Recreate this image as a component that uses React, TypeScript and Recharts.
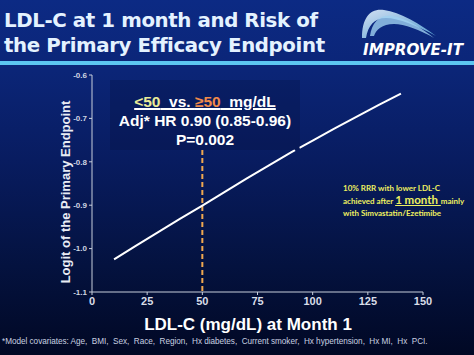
import React from "react";
import { LineChart, Line, XAxis, YAxis, ReferenceLine } from "recharts";

const ldlValues = [10, 20, 30, 40, 50, 60, 70, 80, 90, 92, 93, 94, 100, 110, 120, 130, 140];
const logitValues: (number | null)[] = [
  -1.025, -0.993, -0.962, -0.931, -0.901, -0.870, -0.839, -0.809, -0.779, -0.773, null, -0.768,
  -0.751, -0.723, -0.696, -0.669, -0.643,
];
const xTicks = [0, 25, 50, 75, 100, 125, 150];
const yTicks = [-1.1, -1.0, -0.9, -0.8, -0.7, -0.6];
const cutoff = 50;
const cutoffTop = -0.773;

const data = ldlValues.map((x, i) => ({ x, y: logitValues[i] }));

const W = 474;
const H = 355;

export default function App() {
  return (
    <div
      style={{
        position: "absolute",
        left: 0,
        top: 0,
        width: W,
        height: H,
        overflow: "hidden",
        background: "linear-gradient(180deg, #0c2a84 0%, #0b2577 20%, #081c60 45%, #04123f 75%, #010824 100%)",
        fontFamily: "'Liberation Sans', Arial, sans-serif",
      }}
    >
      {/* Title */}
      <div
        style={{
          position: "absolute",
          left: 4,
          top: 8,
          color: "#e4f2ff",
          fontFamily: "'DejaVu Sans', Verdana, sans-serif",
          fontWeight: "bold",
          fontSize: 19.8,
          lineHeight: "25px",
          whiteSpace: "nowrap",
          letterSpacing: -0.4,
        }}
      >
        LDL-C at 1 month and Risk of
        <br />
        the Primary Efficacy Endpoint
      </div>
      <div style={{ position: "absolute", left: 0, top: 61, width: W, height: 4, background: "#5cc6f0" }} />

      {/* Logo */}
      <svg style={{ position: "absolute", left: 340, top: 0 }} width={134} height={62}>
        <defs>
          <linearGradient id="sw" x1="0" y1="0" x2="1" y2="1">
            <stop offset="0%" stopColor="#e8f4ff" />
            <stop offset="100%" stopColor="#5aa8d8" />
          </linearGradient>
        </defs>
        <path d="M22 38 C 22 18, 30 8, 44 10 C 60 12, 80 24, 96 36 C 78 26, 58 18, 46 18 C 34 18, 28 26, 26 38 Z" fill="url(#sw)" opacity={0.9} />
        <path d="M30 36 C 32 22, 40 14, 52 16 C 66 18, 82 28, 94 38 C 80 30, 64 24, 54 24 C 42 24, 36 30, 34 36 Z" fill="#9fd0f0" opacity={0.8} />
        <text
          x={23}
          y={55}
          fill="#ffffff"
          fontFamily="'DejaVu Sans', sans-serif"
          fontWeight="bold"
          fontStyle="italic"
          fontSize={16}
          textLength={100}
          lengthAdjust="spacingAndGlyphs"
        >
          IMPROVE-IT
        </text>
      </svg>

      <LineChart
        width={W}
        height={H}
        data={data}
        margin={{ top: 75, right: 51, bottom: 0, left: 0 }}
        style={{ position: "absolute", left: 0, top: 0 }}
      >
        <XAxis
          dataKey="x"
          type="number"
          domain={[0, 150]}
          ticks={xTicks}
          height={63}
          stroke="#c8cfdc"
          tickSize={3}
          tickLine={{ stroke: "#c8cfdc" }}
          tick={{ fill: "#d8dde8", fontSize: 11, fontWeight: "bold" }}
          interval={0}
        />
        <YAxis
          type="number"
          domain={[-1.1, -0.6]}
          ticks={yTicks}
          width={92}
          stroke="#c8cfdc"
          tickSize={3}
          tick={{ fill: "#d0d6e2", fontSize: 8, fontWeight: "bold" }}
          tickFormatter={(v: number) => v.toFixed(1)}
          interval={0}
          allowDataOverflow
        />
        <ReferenceLine
          segment={[
            { x: cutoff, y: cutoffTop },
            { x: cutoff, y: -1.1 },
          ]}
          stroke="#f0a850"
          strokeWidth={2}
          strokeDasharray="5 3"
        />
        <Line
          dataKey="y"
          type="linear"
          stroke="#ffffff"
          strokeWidth={2}
          dot={false}
          connectNulls={false}
          isAnimationActive={false}
        />
      </LineChart>

      {/* Text box */}
      <div
        style={{
          position: "absolute",
          left: 110,
          top: 80,
          width: 190,
          height: 70,
          background: "rgba(6,18,62,0.3)",
          textAlign: "center",
          color: "#ffffff",
          fontWeight: "bold",
          fontSize: 15.5,
          lineHeight: "19px",
          paddingTop: 12,
          boxSizing: "border-box",
          whiteSpace: "nowrap",
        }}
      >
        <div style={{ textDecoration: "underline", textDecorationThickness: 2 }}>
          <span style={{ color: "#ecec98" }}>&lt;50</span>&nbsp; vs. <span style={{ color: "#f08a4a" }}>≥50</span>&nbsp; mg/dL
        </div>
        <div>Adj* HR 0.90 (0.85-0.96)</div>
        <div>P=0.002</div>
      </div>

      {/* Annotation */}
      <div
        style={{
          position: "absolute",
          left: 343,
          top: 182,
          color: "#eef060",
          fontFamily: "Lato, 'Open Sans', sans-serif",
          fontWeight: "bold",
          fontSize: 8,
          lineHeight: "12px",
          whiteSpace: "nowrap",
        }}
      >
        <div>10% RRR with lower LDL-C</div>
        <div>
          achieved after <span style={{ fontSize: 11.5, textDecoration: "underline" }}>1 month </span>mainly
        </div>
        <div>with Simvastatin/Ezetimibe</div>
      </div>

      {/* Y axis label */}
      <div
        style={{
          position: "absolute",
          left: 65,
          top: 192,
          transform: "translate(-50%, -50%) rotate(-90deg)",
          color: "#e8ecf4",
          fontWeight: "bold",
          fontSize: 13,
          whiteSpace: "nowrap",
        }}
      >
        Logit of the Primary Endpoint
      </div>

      {/* X axis label */}
      <div
        style={{
          position: "absolute",
          left: 248,
          top: 325,
          transform: "translate(-50%, -50%)",
          color: "#ffffff",
          fontWeight: "bold",
          fontSize: 17,
          whiteSpace: "nowrap",
        }}
      >
        LDL-C (mg/dL) at Month 1
      </div>

      {/* Footnote */}
      <div
        style={{
          position: "absolute",
          left: 2,
          top: 337,
          color: "#c8d0e0",
          fontSize: 8.2,
          letterSpacing: -0.03,
          whiteSpace: "pre",
        }}
      >
        {"*Model covariates: Age,  BMI,  Sex,  Race,  Region,  Hx diabetes,  Current smoker,  Hx hypertension,  Hx MI,  Hx  PCI."}
      </div>
    </div>
  );
}
